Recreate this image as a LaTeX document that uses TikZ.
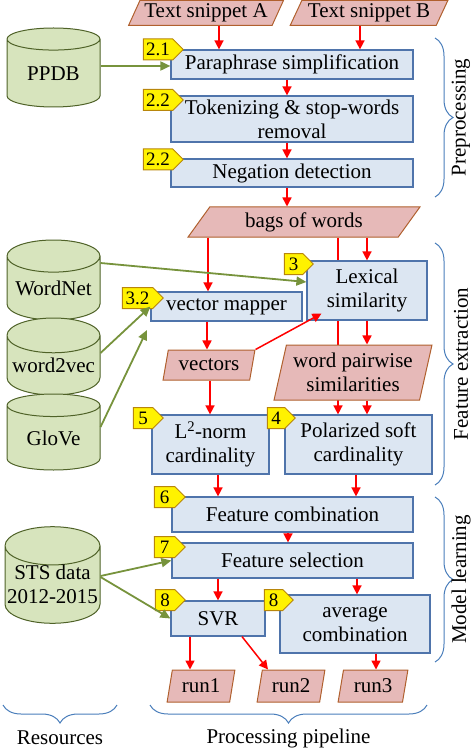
\documentclass[tikz,border=0pt]{standalone}
\usepackage{fontspec}
\setmainfont{Liberation Serif}
\usepackage{xcolor}
\usepackage{tikz}
\usetikzlibrary{positioning, arrows.meta, shapes.geometric, shapes.symbols, decorations.pathreplacing, backgrounds, calc}

\definecolor{boxfill}{HTML}{DCE6F2}
\definecolor{boxline}{HTML}{4F74AB}
\definecolor{datafill}{HTML}{E6B9B8}
\definecolor{dataline}{HTML}{B0602E}
\definecolor{dbfill}{HTML}{D7E4BD}
\definecolor{dbline}{HTML}{4F6228}
\definecolor{tagline}{HTML}{B8860B}
\definecolor{feedcol}{HTML}{77933C}
\definecolor{bracecol}{HTML}{4A7EBB}

\begin{document}
\begin{tikzpicture}[x=1pt, y=-1pt,
    font=\fontsize{21}{24}\selectfont,
    box/.style={draw=boxline, fill=boxfill, rectangle, line width=1.2pt, align=center, inner sep=0pt},
    data/.style={draw=dataline, fill=datafill, trapezium, trapezium stretches=true, trapezium left angle=#1, trapezium right angle={180-#1}, line width=1pt, align=center, inner sep=0pt},
    db/.style={draw=dbline, fill=dbfill, cylinder, shape border rotate=90, aspect=0.42, anchor=shape center, line width=1pt, align=center, inner sep=0pt, minimum width=93pt},
    tag/.style={draw=tagline, fill=yellow, signal, signal to=east, signal pointer angle=90, line width=1pt, minimum height=21pt, inner sep=0pt, font=\fontsize{19}{20}\selectfont},
    arrow/.style={-{Triangle[length=9pt, width=9pt]}, red, line width=1.5pt},
    feed/.style={-{Triangle[length=10pt, width=9pt]}, feedcol, line width=1.8pt},
    brace/.style={decorate, decoration={brace, amplitude=18pt}, draw=bracecol, line width=1pt}
]
\useasboundingbox (0,0) rectangle (474,751);

% --- INPUT SNIPPETS ---
\node[data=60, minimum width=155pt, minimum height=25pt] (snipA) at (206, 13) {Text snippet A};
\node[data=60, minimum width=158pt, minimum height=25pt] (snipB) at (369, 13) {Text snippet B};

% --- PREPROCESSING ---
\node[box, minimum width=242pt, minimum height=29pt] (para) at (292, 64.5) {Paraphrase simplification};
\node[box, minimum width=242pt, minimum height=46pt] (tok) at (292, 119) {Tokenizing \& stop-words\\removal};
\node[box, minimum width=242pt, minimum height=28pt] (neg) at (292, 173) {Negation detection};
\node[data=55, minimum width=232pt, minimum height=30pt] (bags) at (304, 222) {bags of words};

% --- FEATURE EXTRACTION ---
\node[box, minimum width=151pt, minimum height=29pt] (vmap) at (226.5, 306.5) {vector mapper};
\node[box, minimum width=120pt, minimum height=59pt] (lex) at (367, 290.5) {Lexical\\similarity};
\node[data=72, minimum width=92pt, minimum height=30pt] (vec) at (209, 365) {vectors};
\node[data=74, minimum width=158pt, minimum height=55pt] (wps) at (353, 372.5) {word pairwise\\similarities};
\node[box, minimum width=117pt, minimum height=59pt] (ltwo) at (210.5, 444.5) {L\textsuperscript{2}-norm\\cardinality};
\node[box, minimum width=147pt, minimum height=59pt] (psc) at (358.5, 444.5) {Polarized soft\\cardinality};

% --- MODEL LEARNING ---
\node[box, minimum width=241pt, minimum height=35pt] (comb) at (292.5, 514.5) {Feature combination};
\node[box, minimum width=241pt, minimum height=35pt] (sel) at (292.5, 560.5) {Feature selection};
\node[box, minimum width=94pt, minimum height=35pt] (svr) at (218, 618.5) {SVR};
\node[box, minimum width=150pt, minimum height=58pt] (avg) at (355, 624) {average\\combination};
\node[data=76, minimum width=68pt, minimum height=32pt] (runa) at (201, 686) {run1};
\node[data=76, minimum width=68pt, minimum height=32pt] (runb) at (291, 686) {run2};
\node[data=76, minimum width=70pt, minimum height=32pt] (runc) at (373, 686) {run3};

% --- RESOURCES ---
\node[db, minimum height=79pt] (ppdb) at (53.5, 67.5) {PPDB};
\node[db, minimum height=80pt] (wnet) at (53.5, 280) {WordNet};
\node[db, minimum height=77pt] (wvec) at (53.5, 356.5) {word2vec};
\node[db, minimum height=76pt] (glove) at (53.5, 432) {GloVe};
\node[db, minimum height=80pt, minimum width=95pt] (sts) at (52.5, 575) {STS data\\2012-2015};

% --- STEP TAGS ---
\node[tag, minimum width=40pt] (tA) at (158, 49.5) {2.1};
\node[tag, minimum width=40pt] (tB) at (158, 100) {2.2};
\node[tag, minimum width=40pt] (tC) at (158, 159.5) {2.2};
\node[tag, minimum width=41pt] (tD) at (137.5, 298) {3.2};
\node[tag, minimum width=29pt] (tE) at (293.5, 264) {3};
\node[tag, minimum width=30pt] (tF) at (143, 418) {5};
\node[tag, minimum width=28pt] (tG) at (276, 418) {4};
\node[tag, minimum width=31pt] (tH) at (164.5, 497) {6};
\node[tag, minimum width=31pt] (tI) at (164.5, 547) {7};
\node[tag, minimum width=30pt] (tJ) at (165, 600) {8};
\node[tag, minimum width=29pt] (tK) at (273.5, 600) {8};

% --- FLOW ARROWS ---
\draw[arrow] (snipA.south -| 219,0) -- (para.north -| 219,0);
\draw[arrow] (snipB.south -| 360,0) -- (para.north -| 360,0);
\draw[arrow] (para.south -| 287,0) -- (tok.north -| 287,0);
\draw[arrow] (tok.south -| 287,0) -- (neg.north -| 287,0);
\draw[arrow] (neg.south -| 287,0) -- (bags.north -| 287,0);
\draw[arrow] (bags.south -| 208,0) -- (vmap.north -| 208,0);
\draw[arrow] (bags.south -| 367,0) -- (lex.north -| 367,0);
\begin{scope}[on background layer]
\draw[arrow] (bags.south -| 338,0) -- (psc.north -| 338,0);
\end{scope}
\draw[arrow] (lex.south -| 367,0) -- (wps.north -| 367,0);
\draw[arrow] (wps.south -| 367,0) -- (psc.north -| 367,0);
\draw[arrow] (vmap.south -| 207,0) -- (vec.north -| 207,0);
\draw[arrow] (vec.top right corner) -- ($(lex.south west)+(15,-7)$);
\draw[arrow] (vec.south -| 210,0) -- (ltwo.north -| 210,0);
\draw[arrow] (ltwo.south -| 218,0) -- (comb.north -| 218,0);
\draw[arrow] (psc.south -| 356,0) -- (comb.north -| 356,0);
\draw[arrow] (comb.south -| 288,0) -- (sel.north -| 288,0);
\draw[arrow] (sel.south -| 218,0) -- (svr.north -| 218,0);
\draw[arrow] (sel.south -| 357,0) -- (avg.north -| 357,0);
\draw[arrow] (svr.south -| 190,0) -- (runa.north -| 190,0);
\draw[arrow] (svr.south -| 242,0) -- (runb.north -| 268,0);
\draw[arrow] (avg.south -| 376,0) -- (runc.north -| 376,0);

% --- RESOURCE LINKS ---
\coordinate (gtip) at (147, 330);
\draw[feed] (ppdb.east |- 0,66) -- (para.west |- 0,66);
\draw[feed] (wnet.east |- 0,263) -- (lex.west |- 0,282);
\draw[feed] (wvec.east |- 0,353) -- (vmap.west);
\draw[feed] (glove.east |- 0,427) -- (gtip);
\draw[feed] (sts.east |- 0,576) -- (sel.west);
\draw[feed] (sts.east |- 0,577) -- (svr.west);

% --- BRACES ---
\draw[brace] (435, 38) -- (435, 197) node[midway, rotate=90, yshift=-26pt] (lpre) {Preprocessing};
\draw[brace] (435, 243) -- (435, 485) node[midway, rotate=90, yshift=-26pt] (lfea) {Feature extraction};
\draw[brace] (435, 497) -- (435, 662) node[midway, rotate=90, yshift=-26pt] (lmod) {Model learning};
\draw[brace] (117, 705) -- (3, 705) node[midway, yshift=-33pt] (lres) {Resources};
\draw[brace] (427, 705) -- (150, 705) node[midway, yshift=-33pt] (lpip) {Processing pipeline};
\end{tikzpicture}
\end{document}
